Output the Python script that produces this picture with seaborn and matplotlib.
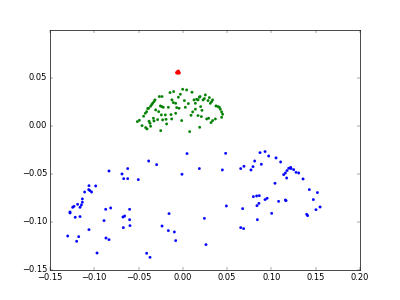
import matplotlib
matplotlib.use("Agg")
import matplotlib.pyplot as plt
import seaborn as sns
import pandas as pd

blue_x = [-0.130, -0.1274, -0.1274, -0.1244, -0.1229, -0.1215, -0.1199, -0.1176, -0.1188, -0.1161,
          -0.1161, -0.1146, -0.1135, -0.1135, -0.1109, -0.1063, -0.1060, -0.1049, -0.1030, -0.0984,
          -0.1060, -0.0969, -0.0890, -0.0871, -0.0868, -0.0834, -0.0815, -0.0834, -0.0687, -0.0668,
          -0.0623, -0.0623, -0.0676, -0.0657, -0.0672, -0.0601, -0.0601, -0.0597, -0.0503, -0.0386,
          -0.0296, -0.0409, -0.0371, -0.0235, -0.0156, -0.0164, -0.0096, -0.0081, -0.0010, 0.0047,
          0.0186, 0.0243, 0.0261, 0.0446, 0.0483, 0.0491, 0.0653, 0.0690, 0.0675, 0.0653,
          0.0686, 0.0769, 0.0792, 0.0811, 0.0871, 0.0928, 0.0886, 0.0969, 0.0796, 0.0833,
          0.0863, 0.0837, 0.0859, 0.0841, 0.0928, 0.0951, 0.1003, 0.1040, 0.1081, 0.1052,
          0.1104, 0.1138, 0.1157, 0.1176, 0.1195, 0.1217, 0.1221, 0.1251, 0.1278, 0.1308,
          0.1172, 0.1157, 0.1165, 0.1357, 0.1428, 0.1473, 0.1519, 0.1503, 0.1549, 0.1398,
          0.1409]
blue_y = [-0.1146, -0.0896, -0.0906, -0.0847, -0.0837, -0.0951, -0.1201, -0.1153, -0.0816, -0.0944,
          -0.0847, -0.0823, -0.0795, -0.0760, -0.0688, -0.0663, -0.0622, -0.0674, -0.0688, -0.0625,
          -0.1080, -0.1323, -0.0986, -0.0868, -0.1167, -0.1184, -0.0854, -0.0469, -0.0500, -0.0549,
          -0.0549, -0.0444, -0.0948, -0.0938, -0.1059, -0.0868, -0.0976, -0.1038, -0.0559, -0.0365,
          -0.0403, -0.1326, -0.1368, -0.1042, -0.0913, -0.1090, -0.1104, -0.1194, -0.0503, -0.0288,
          -0.0444, -0.0962, -0.1236, -0.0458, -0.0285, -0.0833, -0.0444, -0.0420, -0.0861, -0.1059,
          -0.1069, -0.0458, -0.0424, -0.0365, -0.0278, -0.0267, -0.0399, -0.0313, -0.0736, -0.0729,
          -0.0726, -0.0830, -0.0806, -0.0976, -0.0767, -0.0753, -0.0910, -0.0597, -0.0785, -0.0333,
          -0.0375, -0.0507, -0.0490, -0.0465, -0.0441, -0.0431, -0.0444, -0.0455, -0.0483, -0.0490,
          -0.0542, -0.0771, -0.0778, -0.0552, -0.0663, -0.0767, -0.0694, -0.0872, -0.0844, -0.0920,
          -0.0934]

green_x = [-0.0514, -0.0491, -0.0461, -0.0443, -0.0420, -0.0405, -0.0424, -0.0409, -0.0397, -0.0386,
           -0.0364, -0.0352, -0.0341, -0.0326, -0.0315, -0.0307, -0.0333, -0.0371, -0.0364, -0.0382,
           -0.0326, -0.0273, -0.0266, -0.0236, -0.0254, -0.0236, -0.0221, -0.0243, -0.0228, -0.0250,
           -0.0190, -0.0183, -0.0164, -0.0126, -0.0123, -0.0145, -0.0104, -0.0081, -0.0070, -0.0051,
           -0.0043, -0.0028, -0.0013, -0.0002, 0.0043, 0.0062, 0.0077, 0.0103, 0.0092, 0.0111,
           0.0126, 0.0141, 0.0156, 0.0171, 0.0186, 0.0194, 0.0190, 0.0171, 0.0209, 0.0201,
           0.0216, 0.0228, 0.0243, 0.0254, 0.0269, 0.0291, 0.0284, 0.0299, 0.0310, 0.0318,
           0.0336, 0.0325, 0.0336, 0.0374, 0.0397, 0.0412, 0.0423, 0.0438, 0.0449, 0.0438,
           0.0367, -0.0285, -0.0198, -0.0134, -0.0108, -0.0081, 0.0017, 0.0028, 0.0141]
green_y = [0.0045, 0.0059, 0.0003, 0.0101, -0.0017, -0.0031, 0.0132, 0.0149, 0.0181, 0.0184,
           0.0205, 0.0222, 0.0236, 0.0253, 0.0271, 0.0167, 0.0080, 0.0028, -0.0003, 0.0049,
           0.0052, 0.0149, 0.0306, 0.0306, 0.0208, 0.0201, 0.0194, 0.0115, 0.0063, -0.0049,
           0.0069, 0.0021, 0.0194, 0.0073, 0.0271, 0.0347, 0.0358, 0.0236, 0.0191, 0.0299,
           0.0184, 0.0330, 0.0056, 0.0382, 0.0375, 0.0233, -0.0059, 0.0351, 0.0111, 0.0146,
           0.0271, 0.0174, 0.0278, 0.0271, 0.0299, 0.0306, -0.0014, 0.0108, 0.0097, 0.0201,
           0.0163, 0.0271, 0.0285, 0.0323, 0.0073, 0.0080, 0.0264, 0.0295, 0.0236, 0.0035,
           0.0056, 0.0253, 0.0271, 0.0208, 0.0201, 0.0194, 0.0174, 0.0146, 0.0122, 0.0090,
           0.0073, 0.0066, 0.0115, 0.0118, 0.0243, 0.0132, 0.0264, 0.0194, 0.0236]

red_x = [-0.0072, -0.0060, -0.0048, -0.0040, -0.0066, -0.0054, -0.0044, -0.0058, -0.0050]
red_y = [0.0556, 0.0568, 0.0562, 0.0555, 0.0550, 0.0552, 0.0549, 0.0560, 0.0572]

xticks = [-0.15, -0.10, -0.05, 0.00, 0.05, 0.10, 0.15, 0.20]
yticks = [-0.15, -0.10, -0.05, 0.00, 0.05]

df = pd.DataFrame({
    "x": blue_x + green_x + red_x,
    "y": blue_y + green_y + red_y,
    "group": ["blue"] * len(blue_x) + ["green"] * len(green_x) + ["red"] * len(red_x),
})

plt.style.use("classic")
fig = plt.figure(figsize=(8, 6), dpi=50)
ax = fig.add_axes([0.125, 0.1, 0.775, 0.8])
sns.scatterplot(data=df, x="x", y="y", hue="group",
                palette={"blue": "#0000ff", "green": "#008000", "red": "#ff0000"},
                s=14, linewidth=0.3, edgecolor="face", legend=False, ax=ax)
ax.set_xlim(-0.15, 0.20)
ax.set_ylim(-0.15, 0.0999)
ax.set_xticks(xticks)
ax.set_yticks(yticks)
ax.set_xticklabels([f"{v:.2f}".replace("-", "\u2212") for v in xticks])
ax.set_yticklabels([f"{v:.2f}".replace("-", "\u2212") for v in yticks])
ax.set_xlabel("")
ax.set_ylabel("")
fig.savefig("out.png", dpi=50)
